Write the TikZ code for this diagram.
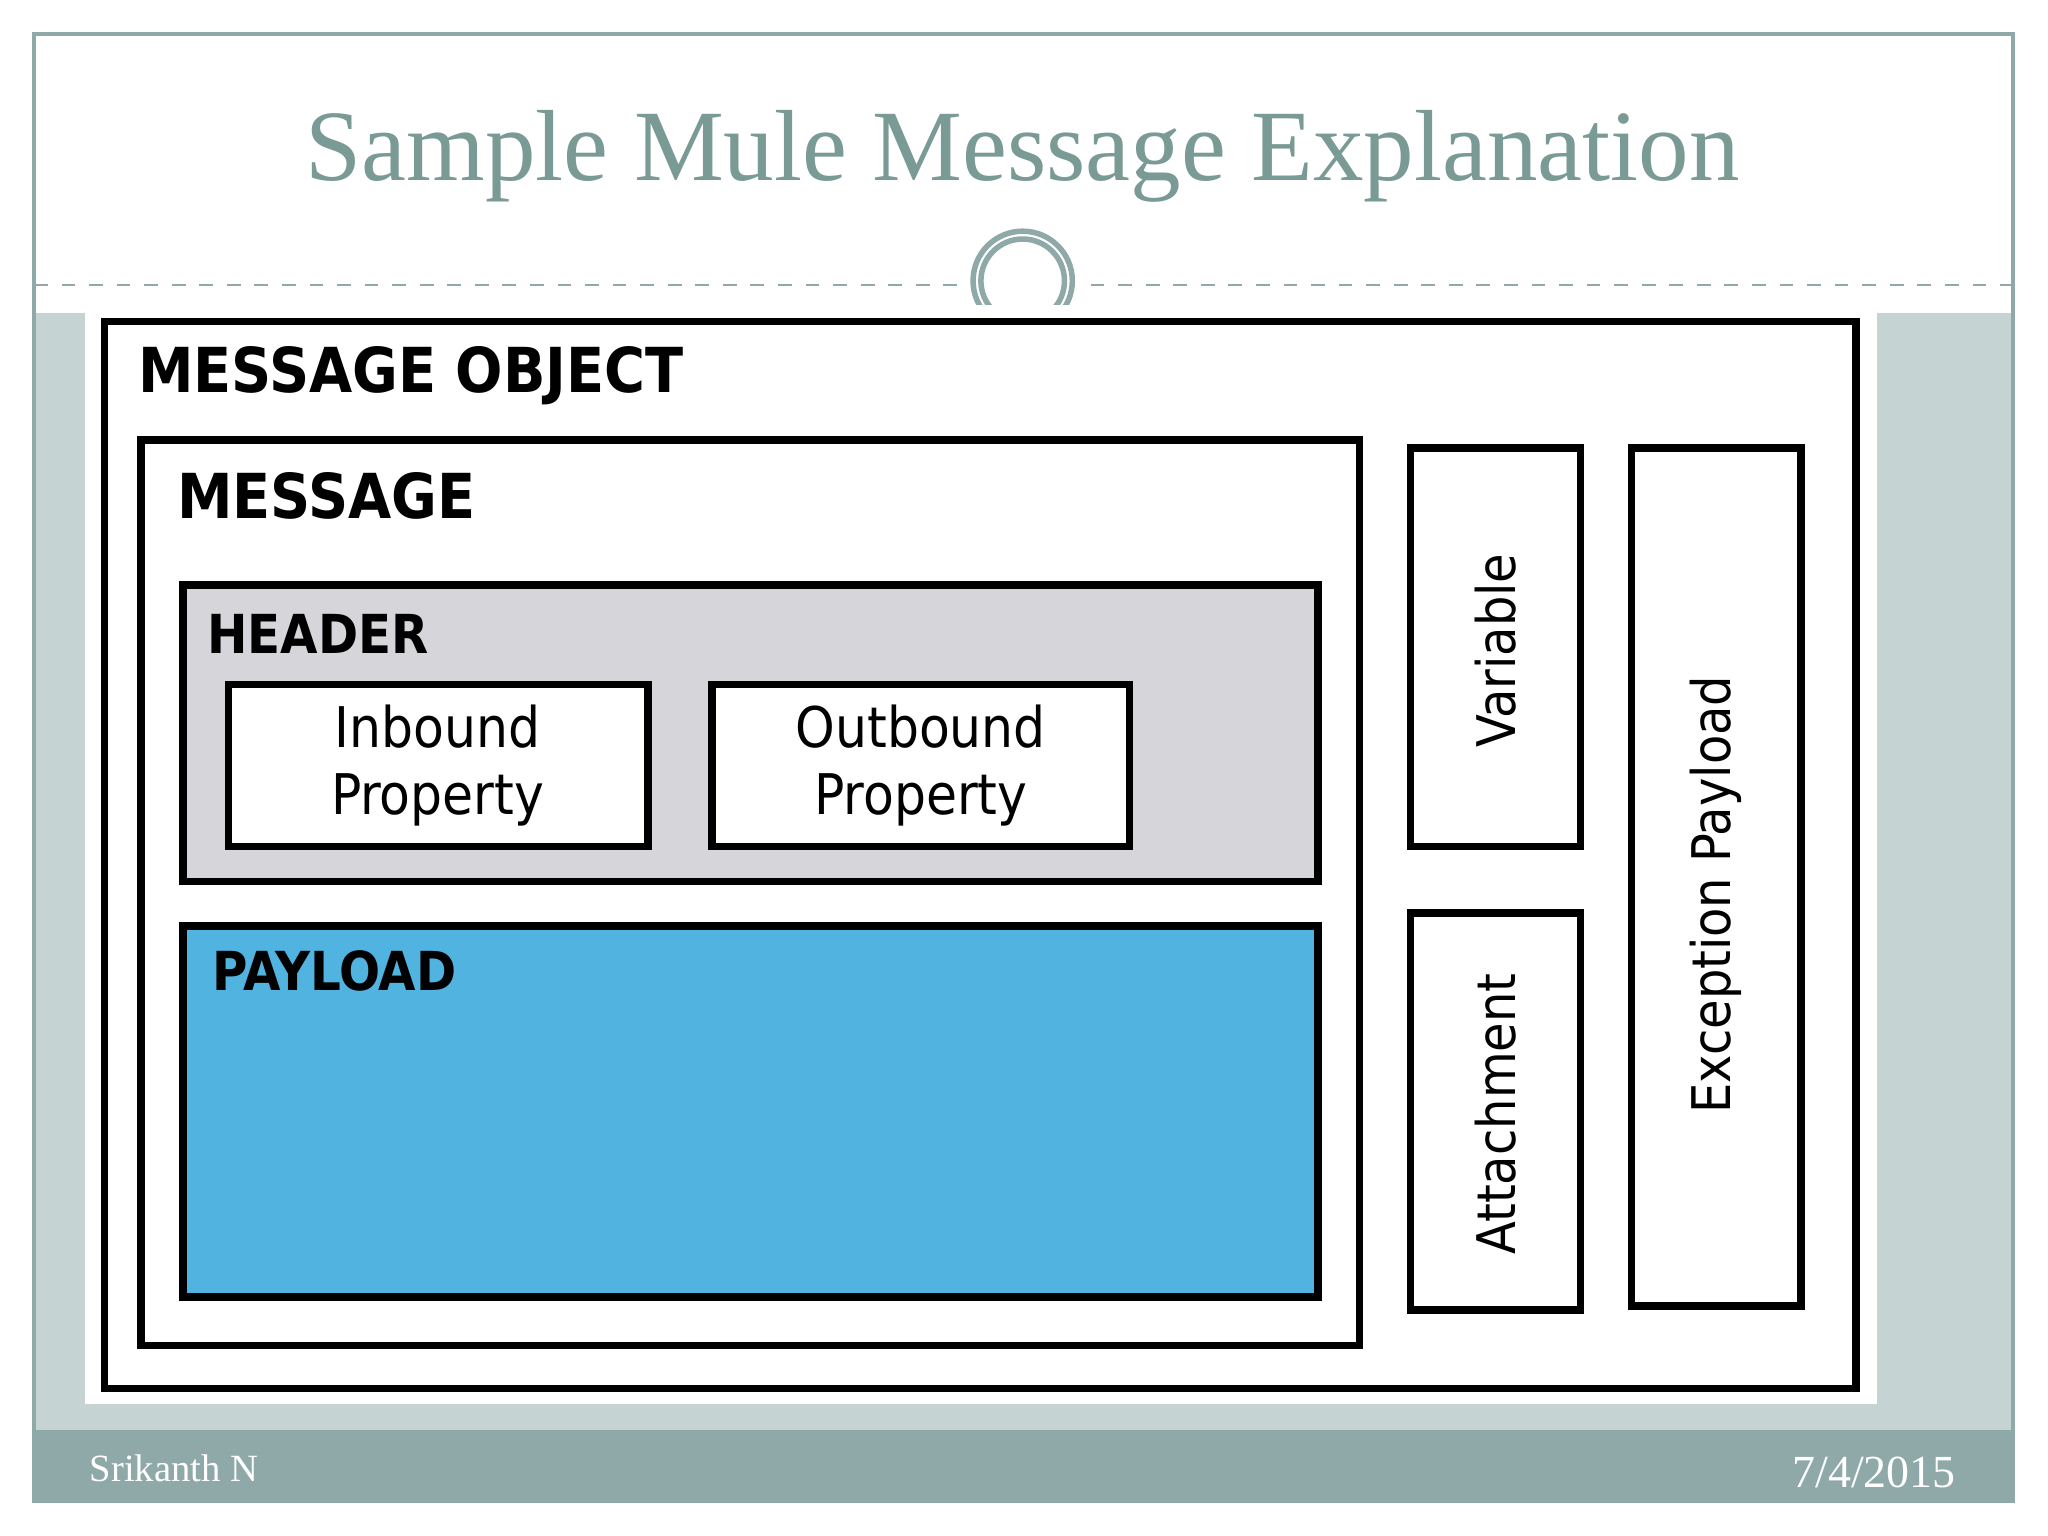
\documentclass[tikz,border=0pt]{standalone}
\usepackage{fontspec}
\setmainfont{Liberation Serif}
\newfontfamily\boxf{DejaVu Sans Condensed}
\begin{document}
\begin{tikzpicture}[x=0.01cm,y=-0.01cm,
  bx/.style={draw=black,line width=1.6pt},
  lbl/.style={anchor=west,inner sep=0pt,font=\boxf\bfseries\fontsize{11.7}{14}\selectfont},
  txt/.style={align=center,font=\boxf\fontsize{12.2}{14.5}\selectfont}]
\useasboundingbox (0,0) rectangle (1568,1176);
\fill[white] (0,0) rectangle (1568,1176);
\fill[fill={rgb,255:red,197;green,211;blue,211}] (26,240) rectangle (1541,1095);
\fill[white] (65,240) rectangle (1437,1075);
\fill[fill={rgb,255:red,143;green,169;blue,169}] (26,1095) rectangle (1541,1149);
\draw[color={rgb,255:red,143;green,169;blue,169},line width=0.8pt] (26,26) rectangle (1541,1149);
\node[text={rgb,255:red,122;green,154;blue,149},font=\fontsize{22}{26}\selectfont] (title) at (783,120) {Sample Mule Message Explanation};
\coordinate (dl1) at (26,218); \coordinate (dl2) at (735,218);
\coordinate (dr1) at (835,218); \coordinate (dr2) at (1541,218);
\draw[dashed,color={rgb,255:red,143;green,169;blue,169},line width=0.5pt] (dl1)--(dl2) (dr1)--(dr2);
\begin{scope}
\clip (700,150) rectangle (870,233);
\draw[color={rgb,255:red,143;green,169;blue,169},line width=1.2pt] (783,215) circle (38);
\draw[color={rgb,255:red,143;green,169;blue,169},line width=1.2pt] (783,215) circle (32);
\end{scope}
\node[anchor=west,inner sep=0pt,white,font=\fontsize{8.4}{10}\selectfont] (auth) at (68,1124) {Srikanth N};
\node[anchor=east,inner sep=0pt,white,font=\fontsize{10}{12}\selectfont] (date) at (1498,1127) {7/4/2015};
\draw[bx] (80,246) rectangle (1421,1063);
\node[lbl,font=\boxf\bfseries\fontsize{13.5}{16}\selectfont] (mo) at (105,288) {MESSAGE OBJECT};
\draw[bx] (108,337) rectangle (1041,1030);
\node[lbl,font=\boxf\bfseries\fontsize{13.5}{16}\selectfont] (m) at (135,380) {MESSAGE};
\draw[bx,fill={rgb,255:red,214;green,214;blue,218}] (140,448) rectangle (1009,675);
\node[lbl] (h) at (158,485) {HEADER};
\draw[bx,fill=white] (175,524) rectangle (496,648);
\node[txt] (in) at (335,586) {Inbound\\Property};
\draw[bx,fill=white] (545,524) rectangle (865,648);
\node[txt] (out) at (705,586) {Outbound\\Property};
\draw[bx,fill={rgb,255:red,81;green,179;blue,224}] (140,709) rectangle (1009,993);
\node[lbl] (p) at (162,743) {PAYLOAD};
\draw[bx] (1080,343) rectangle (1210,648);
\node[txt,rotate=90,font=\boxf\fontsize{11.6}{14}\selectfont] (v) at (1145,498) {Variable};
\draw[bx] (1080,699) rectangle (1210,1003);
\node[txt,rotate=90,font=\boxf\fontsize{11.6}{14}\selectfont] (a) at (1145,853) {Attachment};
\draw[bx] (1249,343) rectangle (1379,1000);
\node[txt,rotate=90,font=\boxf\fontsize{11.6}{14}\selectfont] (e) at (1314,685) {Exception Payload};
\end{tikzpicture}
\end{document}
